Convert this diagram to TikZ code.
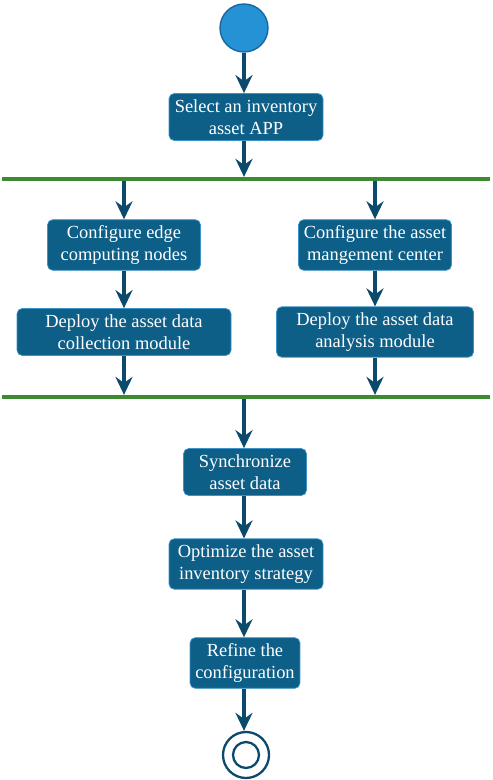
\documentclass[tikz,border=0pt]{standalone}
\usepackage{fontspec}
\setmainfont{Liberation Serif}
\usetikzlibrary{positioning,arrows.meta,calc}

\definecolor{boxblue}{HTML}{0E5F88}
\definecolor{boxedge}{HTML}{3E93C8}
\definecolor{arrblue}{HTML}{0B4A6C}
\definecolor{bargreen}{HTML}{3D8B2F}
\definecolor{startblue}{HTML}{2592D6}
\definecolor{startedge}{HTML}{1A67A0}

\begin{document}
\begin{tikzpicture}[
  font=\fontsize{10.5}{12.5}\selectfont,
  act/.style={draw=boxedge, fill=boxblue, text=white, rounded corners=3pt, align=center, inner xsep=3pt, minimum height=9.4mm},
  arr/.style={-{Stealth[length=3.6mm, width=3.4mm, inset=1.2mm]}, line width=1.8pt, draw=arrblue},
  bar/.style={fill=bargreen, minimum width=97.6mm, minimum height=0.7mm, inner sep=0pt},
  ring/.style={circle, draw=arrblue, line width=1.3pt, inner sep=0pt}
]
\useasboundingbox (0,0) rectangle (9.84,-15.6);

% nodes
\node[circle, fill=startblue, draw=startedge, line width=0.8pt, minimum size=9.6mm, inner sep=0pt] (start) at (4.88,-0.56) {};
\node[act, minimum width=30.8mm] (select) at (4.92,-2.34) {Select an inventory\\asset APP};

\node[bar] (fork) at (4.92,-3.58) {};

\node[act, minimum width=30.6mm] (edge) at (2.48,-4.9) {Configure edge\\computing nodes};
\node[act, minimum width=30.4mm] (center) at (7.5,-4.9) {Configure the asset\\mangement center};
\node[act, minimum width=42.8mm] (collect) at (2.48,-6.64) {Deploy the asset data\\collection module};
\node[act, minimum width=39.4mm] (analyse) at (7.5,-6.64) {Deploy the asset data\\analysis module};

\node[bar] (join) at (4.92,-7.94) {};

\node[act, minimum width=24.6mm] (sync) at (4.9,-9.44) {Synchronize\\asset data};
\node[act, minimum width=30.8mm] (optim) at (4.92,-11.28) {Optimize the asset\\inventory strategy};
\node[act, minimum width=21.4mm] (refine) at (4.9,-13.26) {Refine the\\configuration};

\node[ring, minimum size=9.2mm] (stop) at (4.92,-15.1) {};
\node[ring, minimum size=5.2mm] (stopin) at (stop) {};

% arrows
\draw[arr] (start) -- (start |- select.north);
\draw[arr] (start |- select.south) -- (start |- fork.north);
\draw[arr] (fork.south -| edge) -- (edge);
\draw[arr] (fork.south -| center) -- (center);
\draw[arr] (edge) -- (collect);
\draw[arr] (center) -- (analyse);
\draw[arr] (collect) -- (collect |- join.north);
\draw[arr] (analyse) -- (analyse |- join.north);
\draw[arr] (join.south -| start) -- (start |- sync.north);
\draw[arr] (start |- sync.south) -- (start |- optim.north);
\draw[arr] (start |- optim.south) -- (start |- refine.north);
\draw[arr] (start |- refine.south) -- (start |- stop.north);

\end{tikzpicture}
\end{document}
